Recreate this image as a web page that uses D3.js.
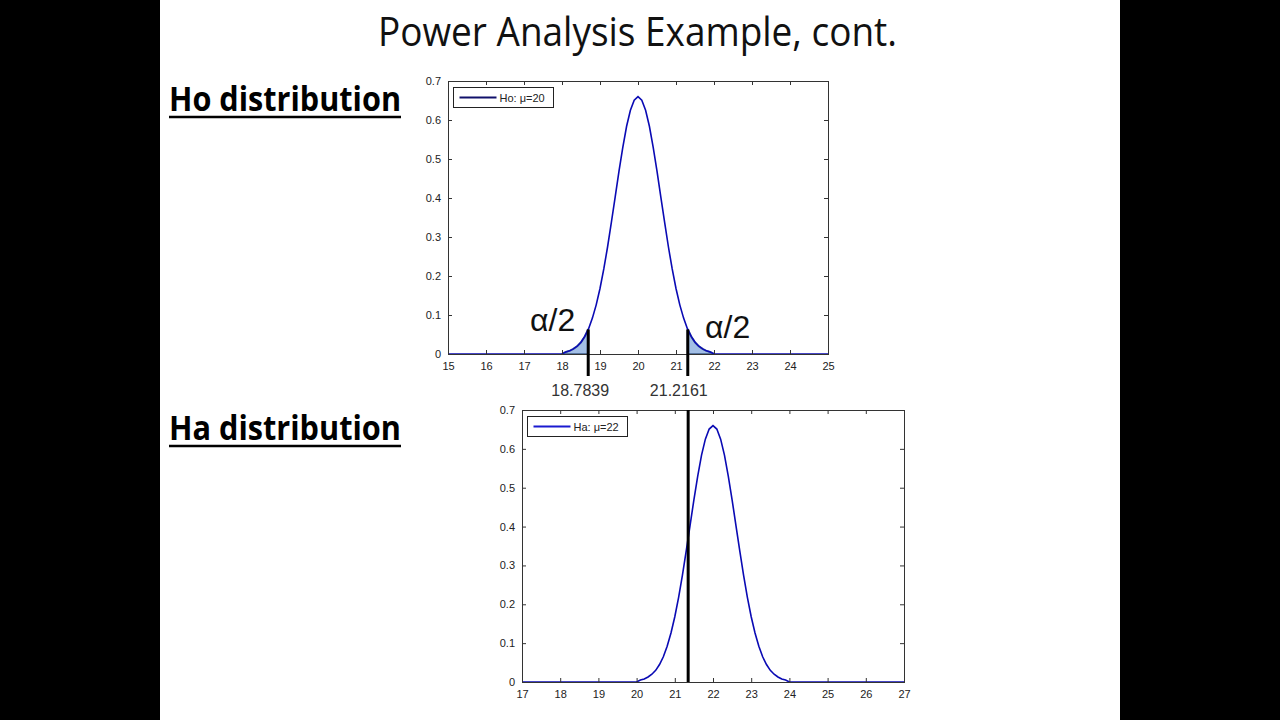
<!DOCTYPE html>
<html lang="en">
<head>
<meta charset="UTF-8">
<title>Power Analysis Example, cont.</title>
<script src="https://d3js.org/d3.v7.min.js"></script>
<style>
    body { margin: 0; background: #000; }
    svg { display: block; }
    .tick text { font-family: "Liberation Sans", Arial, sans-serif; font-size: 11px; fill: #222; }
    .tick line { stroke: #333; }
    .slide-title { font-family: "Open Sans", sans-serif; font-size: 40px; fill: #111; }
    .side-label { font-family: "Open Sans", sans-serif; font-size: 34px; font-weight: 700; fill: #000; }
    .alpha { font-family: "Liberation Sans", Arial, sans-serif; font-size: 32px; fill: #111; }
    .crit { font-family: "Liberation Sans", Arial, sans-serif; font-size: 16px; fill: #333; }
    .legend text { font-family: "Liberation Sans", Arial, sans-serif; font-size: 11px; fill: #222; }
</style>
</head>
<body>
<svg id="slide" width="1280" height="720"></svg>
<script>
// values
var hoTicksX = [15, 16, 17, 18, 19, 20, 21, 22, 23, 24, 25];
var haTicksX = [17, 18, 19, 20, 21, 22, 23, 24, 25, 26, 27];
var ticksY = [0, 0.1, 0.2, 0.3, 0.4, 0.5, 0.6, 0.7];

var hoX = [15, 18.0, 18.1, 18.2, 18.3, 18.4, 18.5, 18.6, 18.7, 18.8, 18.9,
    19.0, 19.1, 19.2, 19.3, 19.4, 19.5, 19.6, 19.7, 19.8, 19.9,
    20.0, 20.1, 20.2, 20.3, 20.4, 20.5, 20.6, 20.7, 20.8, 20.9,
    21.0, 21.1, 21.2, 21.3, 21.4, 21.5, 21.6, 21.7, 21.8, 21.9, 22.0, 25];
var haX = [17, 20.0, 20.1, 20.2, 20.3, 20.4, 20.5, 20.6, 20.7, 20.8, 20.9,
    21.0, 21.1, 21.2, 21.3, 21.4, 21.5, 21.6, 21.7, 21.8, 21.9,
    22.0, 22.1, 22.2, 22.3, 22.4, 22.5, 22.6, 22.7, 22.8, 22.9,
    23.0, 23.1, 23.2, 23.3, 23.4, 23.5, 23.6, 23.7, 23.8, 23.9, 24.0, 27];
var density = [0, 0, 0.005, 0.008, 0.013, 0.020, 0.030, 0.045, 0.065, 0.092, 0.126,
    0.168, 0.218, 0.275, 0.338, 0.403, 0.469, 0.530, 0.584, 0.625, 0.651,
    0.660, 0.651, 0.625, 0.584, 0.530, 0.469, 0.403, 0.338, 0.275, 0.218,
    0.168, 0.126, 0.092, 0.065, 0.045, 0.030, 0.020, 0.013, 0.008, 0.005, 0, 0];

var critX = [18.69, 21.31];      // where the black bars sit on the Ho plot
var critY = [0.063, 0.063];
var critLabels = ["18.7839", "21.2161"];
var haCritX = 21.35;

var svg = d3.select("#slide");

// slide background
svg.append("rect").attr("x", 0).attr("y", 0).attr("width", 1280).attr("height", 720).attr("fill", "#000");
svg.append("rect").attr("x", 160).attr("y", 0).attr("width", 960).attr("height", 720).attr("fill", "#fff");

svg.append("text").attr("class", "slide-title")
    .attr("x", 378).attr("y", 46)
    .attr("textLength", 519).attr("lengthAdjust", "spacingAndGlyphs")
    .text("Power Analysis Example, cont.");

[["Ho distribution", 111], ["Ha distribution", 440]].forEach(function (d) {
    svg.append("text").attr("class", "side-label")
        .attr("x", 169).attr("y", d[1])
        .attr("textLength", 232).attr("lengthAdjust", "spacingAndGlyphs")
        .text(d[0]);
    svg.append("line")
        .attr("x1", 169).attr("x2", 401)
        .attr("y1", d[1] + 6).attr("y2", d[1] + 6)
        .attr("stroke", "#000").attr("stroke-width", 2.5);
});

function drawPanel(p) {
    var x = d3.scaleLinear().domain(p.xDomain).range([p.left, p.right]);
    var y = d3.scaleLinear().domain([0, 0.7]).range([p.bottom, p.top]);
    var g = svg.append("g");

    g.append("rect")
        .attr("x", p.left).attr("y", p.top)
        .attr("width", p.right - p.left).attr("height", p.bottom - p.top)
        .attr("fill", "#fff");

    var pts = p.xs.map(function (v, i) { return [v, density[i]]; });

    if (p.tails) {
        p.tails.forEach(function (t) {
            var seg = pts.filter(function (d) { return d[0] >= t.from && d[0] <= t.to && d[1] > 0 || d[0] === t.from || d[0] === t.to; });
            seg = seg.filter(function (d) { return d[0] >= t.from && d[0] <= t.to; });
            seg.push([t.edge, t.edgeY]);
            seg.sort(function (a, b) { return a[0] - b[0]; });
            g.append("path")
                .datum(seg)
                .attr("fill", "#a3bfe6")
                .attr("stroke", "#56749f")
                .attr("stroke-width", 2)
                .attr("d", d3.area().x(function (d) { return x(d[0]); })
                    .y0(y(0)).y1(function (d) { return y(d[1]); }));
        });
    }

    g.append("path")
        .datum(pts)
        .attr("fill", "none")
        .attr("stroke", "#0a0ab4")
        .attr("stroke-width", 1.6)
        .attr("d", d3.line().x(function (d) { return x(d[0]); }).y(function (d) { return y(d[1]); }));

    // axes, ticks inward on all four sides
    var bottom = g.append("g").attr("transform", "translate(0," + p.bottom + ")")
        .call(d3.axisBottom(x).tickValues(p.ticksX).tickSizeInner(-4).tickSizeOuter(0).tickPadding(8).tickFormat(d3.format("d")));
    g.append("g").attr("transform", "translate(0," + p.top + ")")
        .call(d3.axisTop(x).tickValues(p.ticksX).tickSizeInner(-4).tickSizeOuter(0).tickFormat(""));
    g.append("g").attr("transform", "translate(" + p.left + ",0)")
        .call(d3.axisLeft(y).tickValues(ticksY).tickSizeInner(-4).tickSizeOuter(0).tickPadding(7).tickFormat(d3.format("")));
    g.append("g").attr("transform", "translate(" + p.right + ",0)")
        .call(d3.axisRight(y).tickValues(ticksY).tickSizeInner(-4).tickSizeOuter(0).tickFormat(""));
    g.selectAll(".domain").remove();

    g.append("rect")
        .attr("x", p.left + 0.5).attr("y", p.top + 0.5)
        .attr("width", p.right - p.left).attr("height", p.bottom - p.top)
        .attr("fill", "none").attr("stroke", "#333").attr("stroke-width", 1);

    // legend
    var lg = g.append("g").attr("class", "legend")
        .attr("transform", "translate(" + (p.left + 5.5) + "," + (p.top + 6.5) + ")");
    lg.append("rect").attr("width", 100).attr("height", 20)
        .attr("fill", "#fff").attr("stroke", "#222");
    lg.append("line").attr("x1", 6).attr("x2", 43).attr("y1", 10).attr("y2", 10)
        .attr("stroke", p.legendColor).attr("stroke-width", 2);
    lg.append("text").attr("x", 46).attr("y", 14).text(p.legend);

    return { x: x, y: y, g: g };
}

var ho = drawPanel({
    xDomain: [15, 25], left: 448, right: 828, top: 81, bottom: 354,
    ticksX: hoTicksX, xs: hoX, legend: "Ho: \u03bc=20", legendColor: "#10106a",
    tails: [
        { from: 18.0, to: critX[0], edge: critX[0], edgeY: critY[0] },
        { from: critX[1], to: 22.0, edge: critX[1], edgeY: critY[1] }
    ]
});

var ha = drawPanel({
    xDomain: [17, 27], left: 522, right: 904, top: 410, bottom: 682,
    ticksX: haTicksX, xs: haX, legend: "Ha: \u03bc=22", legendColor: "#1a1ad0"
});

// critical value bars and labels on the Ho plot
critX.forEach(function (c, i) {
    svg.append("line")
        .attr("x1", ho.x(c)).attr("x2", ho.x(c))
        .attr("y1", ho.y(critY[i])).attr("y2", 376)
        .attr("stroke", "#000").attr("stroke-width", 3);
    svg.append("text").attr("class", "crit")
        .attr("x", ho.x(c) + (i === 0 ? -8 : -9)).attr("y", 396)
        .attr("text-anchor", "middle")
        .text(critLabels[i]);
});

svg.append("text").attr("class", "alpha").attr("x", 530).attr("y", 331).text("\u03b1/2");
svg.append("text").attr("class", "alpha").attr("x", 705).attr("y", 338).text("\u03b1/2");

// the rejection boundary carried down to the Ha plot
svg.append("line")
    .attr("x1", ha.x(haCritX)).attr("x2", ha.x(haCritX))
    .attr("y1", 410).attr("y2", 682)
    .attr("stroke", "#000").attr("stroke-width", 3);
</script>
</body>
</html>
